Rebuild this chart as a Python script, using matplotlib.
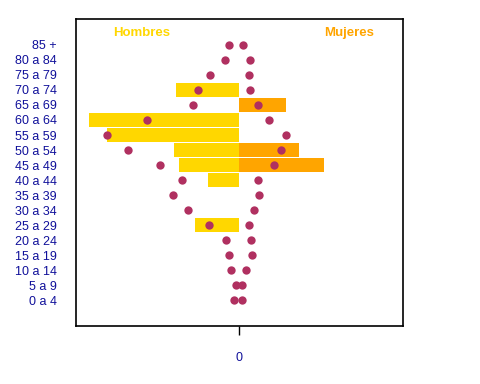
import matplotlib
matplotlib.use("Agg")
import matplotlib.pyplot as plt
import numpy as np

plt.rcParams['font.family'] = ['Liberation Sans', 'DejaVu Sans']

grupos = ["0 a 4", "5 a 9", "10 a 14", "15 a 19", "20 a 24", "25 a 29", "30 a 34",
          "35 a 39", "40 a 44", "45 a 49", "50 a 54", "55 a 59", "60 a 64",
          "65 a 69", "70 a 74", "75 a 79", "80 a 84", "85 +"]

# bars (percent)
hombres = [0, 0, 0, 0, 0, 2.2, 0, 0, 1.55, 3.0, 3.25, 6.6, 7.5, 0, 3.15, 0, 0, 0]
mujeres = [0, 0, 0, 0, 0, 0, 0, 0, 0, 4.25, 3.0, 0, 0, 2.33, 0, 0, 0, 0]

# reference points (percent)
ref_hombres = [0.25, 0.15, 0.4, 0.5, 0.65, 1.52, 2.58, 3.3, 2.87, 3.95, 5.55, 6.6,
               4.63, 2.3, 2.05, 1.45, 0.7, 0.5]
ref_mujeres = [0.15, 0.15, 0.35, 0.65, 0.6, 0.5, 0.75, 1.0, 0.95, 1.75, 2.1, 2.35,
               1.5, 0.95, 0.55, 0.5, 0.55, 0.2]

fig = plt.figure(figsize=(4.8, 3.84), dpi=100)
ax = fig.add_axes([0.159, 0.151, 0.681, 0.7987])

y = np.arange(len(grupos))
ax.barh(y, -np.array(hombres), height=0.93, color='#FFD700', edgecolor='none')
ax.barh(y, mujeres, height=0.93, color='#FFA500', edgecolor='none')
ax.plot(-np.array(ref_hombres), y, 'o', color='#B03060', markersize=6, markeredgewidth=0)
ax.plot(ref_mujeres, y, 'o', color='#B03060', markersize=6, markeredgewidth=0)

ax.set_xlim(-8.15, 8.2)
ax.set_ylim(-1.73, 18.71)

ax.set_yticks(y)
ax.set_yticklabels(grupos, color='#10109A', fontsize=9)
ax.tick_params(axis='y', length=0, pad=14)
ax.set_xticks([0])
ax.set_xticklabels(['0'], color='#10109A', fontsize=9)
ax.tick_params(axis='x', length=6.5, width=1, pad=12)

for s in ax.spines.values():
    s.set_linewidth(1.2)

ax.text(-4.87, 17.8, 'Hombres', color='#FFD700', fontweight='bold', fontsize=9.5,
        ha='center', va='center')
ax.text(5.49, 17.8, 'Mujeres', color='#FFA500', fontweight='bold', fontsize=9.5,
        ha='center', va='center')

fig.savefig('out.png', dpi=100)
